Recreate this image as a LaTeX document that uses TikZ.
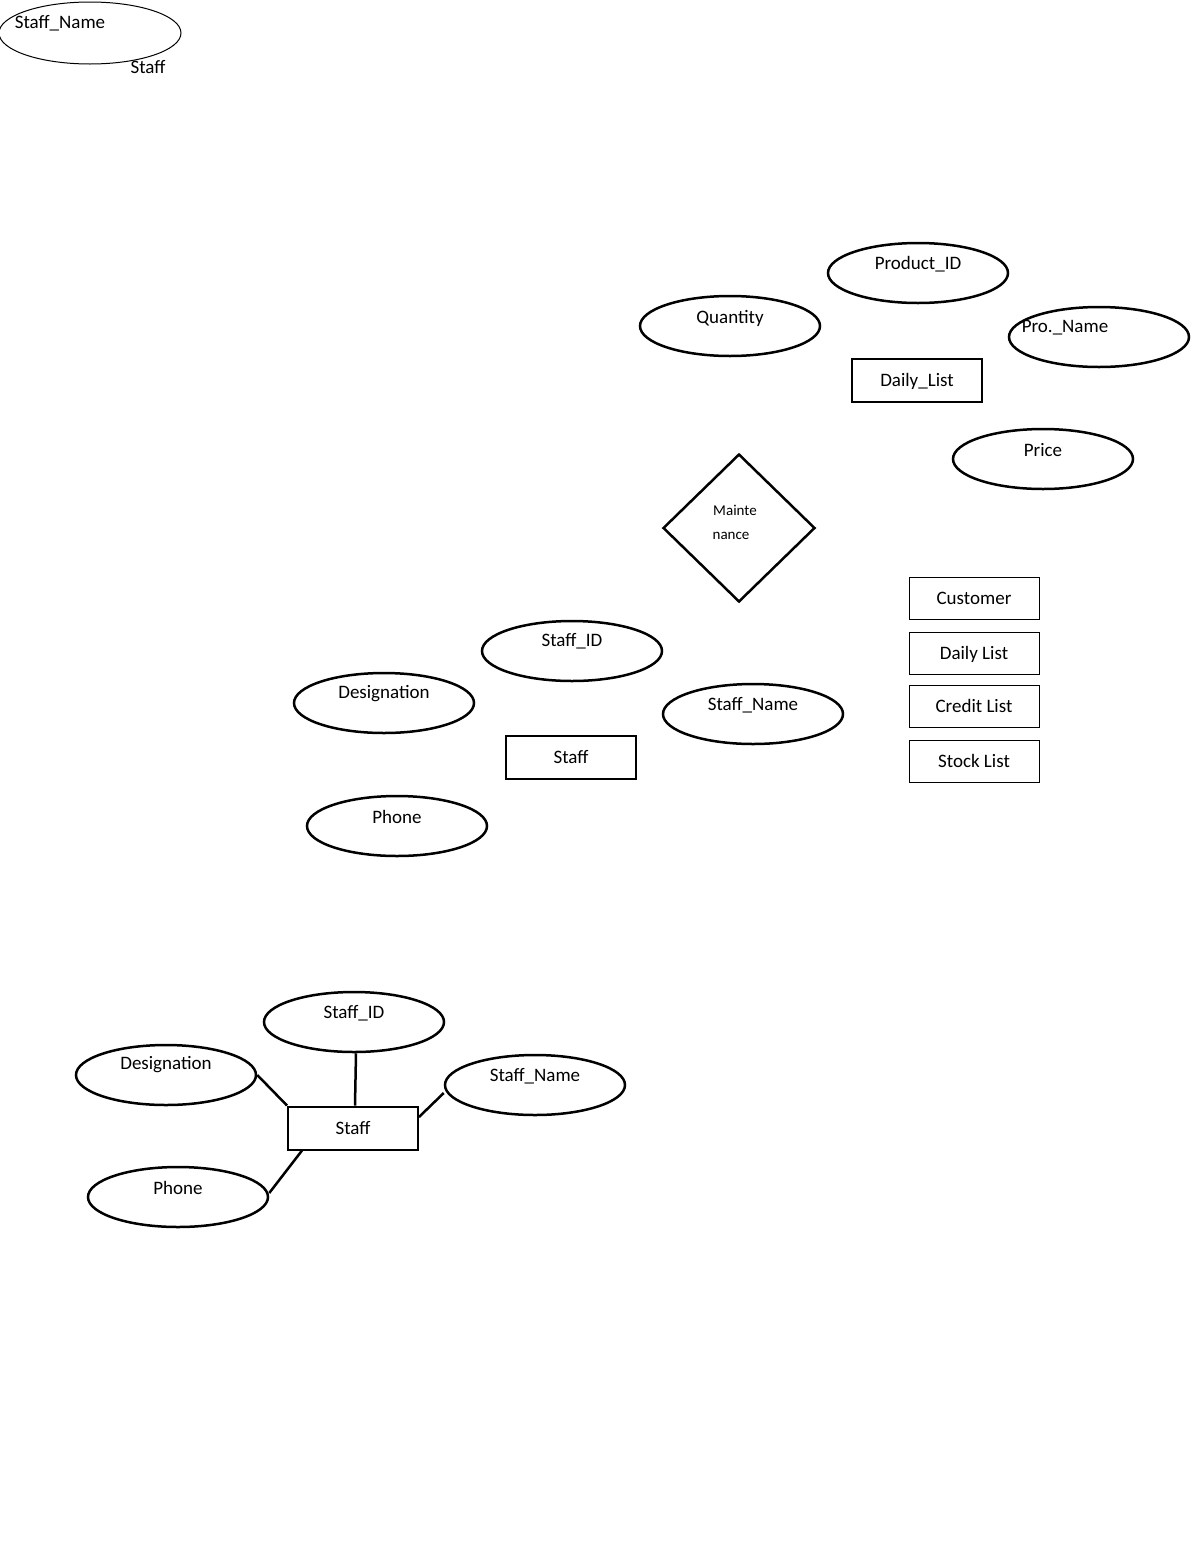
\documentclass[tikz,border=0pt]{standalone}
\usepackage{fontspec}
\setmainfont{Carlito}
\usetikzlibrary{shapes.geometric}
\begin{document}
\begin{tikzpicture}[x=1pt,y=-1pt,
  attr/.style={draw,ellipse,line width=2.5pt,minimum width=180pt,minimum height=60pt},
  ent/.style={draw,line width=2pt,minimum width=130pt,minimum height=43pt,inner sep=0pt},
  lst/.style={draw,line width=1pt,minimum width=130pt,minimum height=42pt,inner sep=0pt},
  lbl/.style={font=\fontsize{19}{21}\selectfont},
  conn/.style={line width=2.5pt}]
\useasboundingbox (0,0) rectangle (1200,1553);
% top-left
\node[draw,ellipse,line width=1pt,minimum width=182pt,minimum height=62pt] (e0) at (90,33) {};
\node[lbl] (t0) at (60,23) {Staff\_Name};
\node[lbl] (t1) at (148,67) {Staff};
% daily list group
\node[attr] (pid) at (918,273) {}; \node[lbl] at (918,264) {Product\_ID};
\node[attr] (qty) at (730,326) {}; \node[lbl] at (730,318) {Quantity};
\node[attr] (pn) at (1099,337) {}; \node[lbl] at (1065,328) {Pro.\_Name};
\node[ent] (dl) at (917,380) {}; \node[lbl] at (917,381) {Daily\_List};
\node[attr] (pr) at (1043,459) {}; \node[lbl] at (1043,450) {Price};
\node[draw,diamond,line width=2.5pt,minimum width=152pt,minimum height=148pt,inner sep=0pt] (m) at (739,528) {};
\node[font=\fontsize{15}{17}\selectfont] at (735,510) {Mainte};
\node[font=\fontsize{15}{17}\selectfont] at (731,536) {nance};
% list boxes
\node[lst] (c1) at (974,598) {}; \node[lbl] at (974,598) {Customer};
\node[lst] (c2) at (974,653) {}; \node[lbl] at (974,654) {Daily List};
\node[lst] (c3) at (974,706) {}; \node[lbl] at (974,706) {Credit List};
\node[lst] (c4) at (974,761) {}; \node[lbl] at (974,761) {Stock List};
% middle staff
\node[attr] (sid) at (572,651) {}; \node[lbl] at (572,641) {Staff\_ID};
\node[attr] (des) at (384,703) {}; \node[lbl] at (384,694) {Designation};
\node[attr] (sn) at (753,714) {}; \node[lbl] at (753,705) {Staff\_Name};
\node[ent] (st) at (571,757) {}; \node[lbl] at (571,757) {Staff};
\node[attr] (ph) at (397,826) {}; \node[lbl] at (397,817) {Phone};
% bottom staff
\node[attr] (bsid) at (354,1022) {}; \node[lbl] at (354,1013) {Staff\_ID};
\node[attr] (bdes) at (166,1075) {}; \node[lbl] at (166,1065) {Designation};
\node[attr] (bsn) at (535,1085) {}; \node[lbl] at (535,1076) {Staff\_Name};
\node[ent] (bst) at (353,1128) {}; \node[lbl] at (353,1128) {Staff};
\node[attr] (bph) at (178,1197) {}; \node[lbl] at (178,1188) {Phone};
\draw[conn] ([xshift=2pt]bsid.south) -- ([xshift=2pt]bst.north);
\draw[conn] (bdes.east) -- (bst.north west);
\draw[conn] ([yshift=-8pt]bsn.west) -- ([yshift=11pt]bst.east);
\draw[conn] ([yshift=4pt]bph.east) -- ([xshift=15pt]bst.south west);
\end{tikzpicture}
\end{document}
